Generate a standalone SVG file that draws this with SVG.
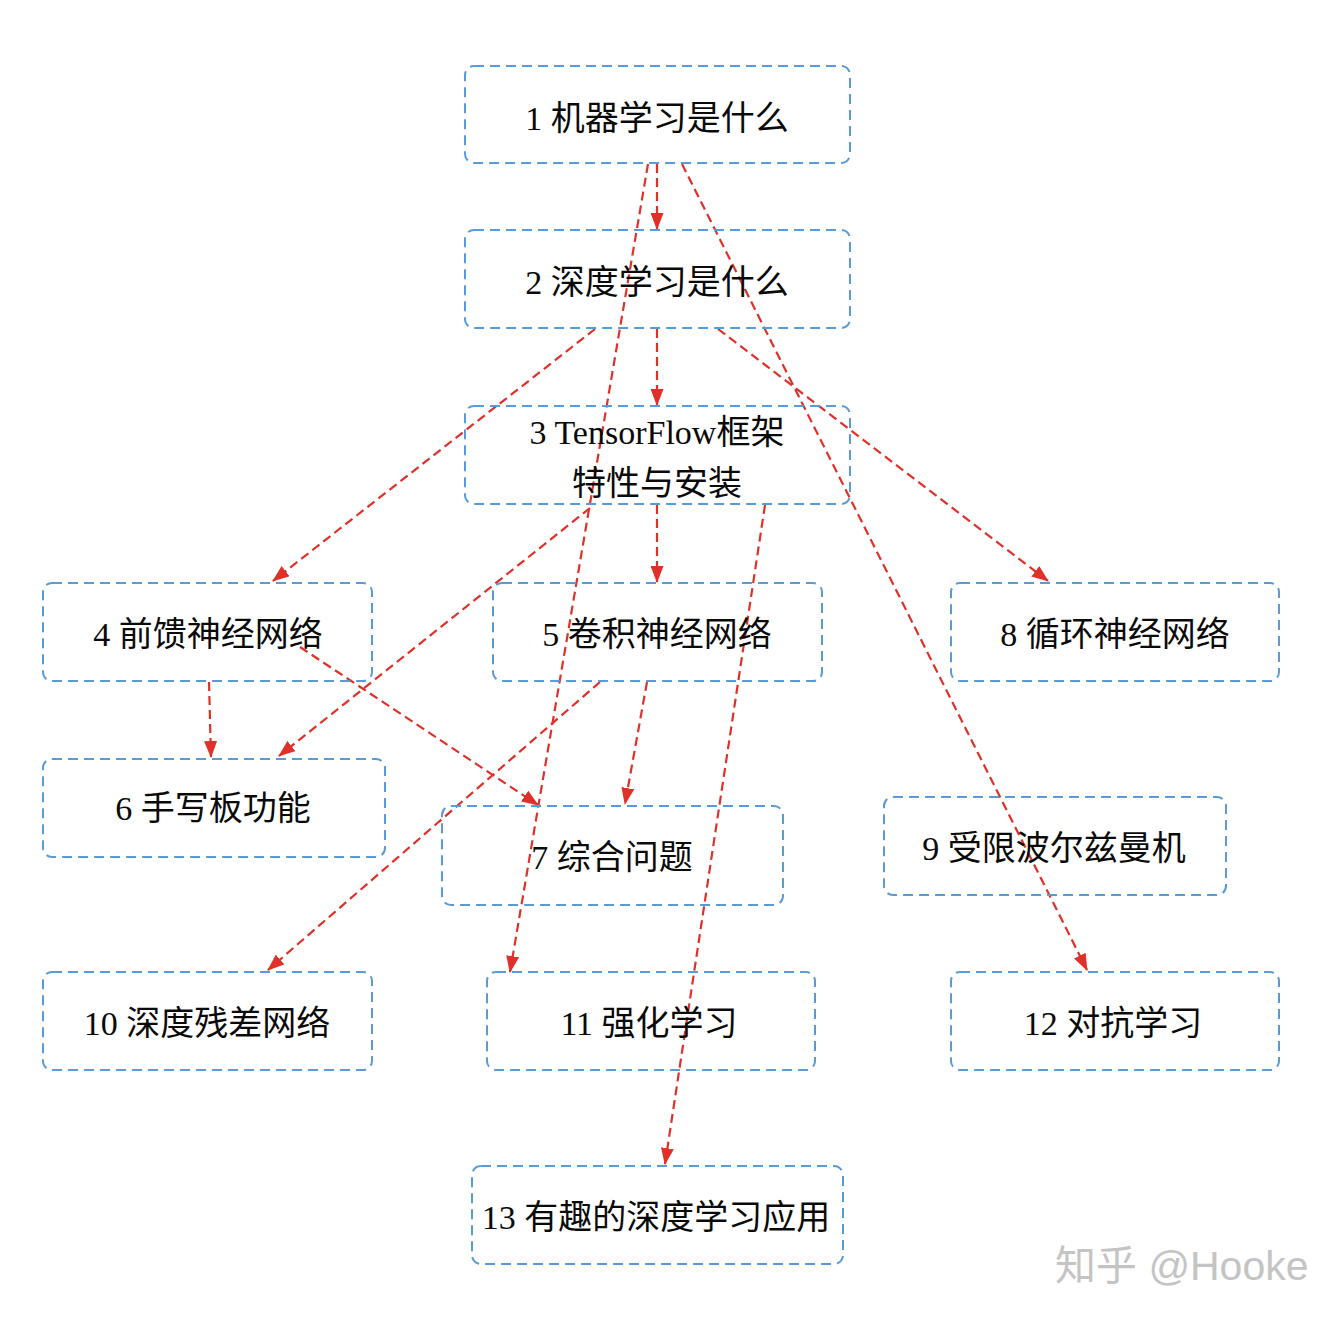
<svg xmlns="http://www.w3.org/2000/svg" width="1344" height="1318" viewBox="0 0 1344 1318">
<style>
.box{fill:none;stroke:#5b9bd5;stroke-width:2;stroke-dasharray:10 6}
.lbl{font-family:"Liberation Serif","Noto Sans CJK SC",serif;font-size:34px;fill:#0a0a0a;text-anchor:middle}
.edge{fill:none;stroke:#e0302a;stroke-width:2.2;stroke-dasharray:9 5;marker-end:url(#ah)}
.wm{font-family:"Liberation Sans","Noto Sans CJK SC",sans-serif;font-size:41px;fill:#c4c4c4}
</style>
<defs>
<marker id="ah" markerUnits="userSpaceOnUse" markerWidth="17" markerHeight="13" viewBox="0 0 17 13" refX="16" refY="6.5" orient="auto">
<path d="M0,0 L17,6.5 L0,13 Z" fill="#e0302a"/>
</marker>
</defs>
<rect width="1344" height="1318" fill="#fff"/>
<g id="connectors">
<line class="edge" x1="657" y1="164" x2="657" y2="229"/>
<line class="edge" x1="648" y1="164" x2="510" y2="972"/>
<line class="edge" x1="682" y1="164" x2="1087" y2="970"/>
<line class="edge" x1="657" y1="329" x2="657" y2="405"/>
<line class="edge" x1="595" y1="329" x2="273" y2="581"/>
<line class="edge" x1="718" y1="329" x2="1048" y2="581"/>
<line class="edge" x1="657" y1="505" x2="657" y2="582"/>
<line class="edge" x1="590" y1="508" x2="279" y2="756"/>
<line class="edge" x1="765" y1="505" x2="665" y2="1164"/>
<line class="edge" x1="209" y1="682" x2="211" y2="757"/>
<line class="edge" x1="300" y1="647" x2="538" y2="805"/>
<line class="edge" x1="647" y1="682" x2="625" y2="804"/>
<line class="edge" x1="600" y1="682" x2="268" y2="970"/>
</g>
<g id="n1"><rect class="box" x="465" y="66" width="385" height="97" rx="9"/><text class="lbl" x="657" y="130">1 机器学习是什么</text></g>
<g id="n2"><rect class="box" x="465" y="230" width="385" height="98" rx="9"/><text class="lbl" x="657" y="294">2 深度学习是什么</text></g>
<g id="n3"><rect class="box" x="465" y="406" width="385" height="98" rx="9"/><text class="lbl" x="657" y="444">3 TensorFlow框架</text><text class="lbl" x="657" y="495">特性与安装</text></g>
<g id="n4"><rect class="box" x="43" y="583" width="329" height="98" rx="9"/><text class="lbl" x="208" y="646">4 前馈神经网络</text></g>
<g id="n5"><rect class="box" x="493" y="583" width="329" height="98" rx="9"/><text class="lbl" x="657" y="646">5 卷积神经网络</text></g>
<g id="n8"><rect class="box" x="951" y="583" width="328" height="98" rx="9"/><text class="lbl" x="1115" y="646">8 循环神经网络</text></g>
<g id="n6"><rect class="box" x="43" y="759" width="342" height="98" rx="9"/><text class="lbl" x="213" y="820">6 手写板功能</text></g>
<g id="n7"><rect class="box" x="442" y="806" width="341" height="99" rx="9"/><text class="lbl" x="612" y="869">7 综合问题</text></g>
<g id="n9"><rect class="box" x="884" y="797" width="342" height="98" rx="9"/><text class="lbl" x="1054" y="860">9 受限波尔兹曼机</text></g>
<g id="n10"><rect class="box" x="43" y="972" width="329" height="98" rx="9"/><text class="lbl" x="207" y="1035">10 深度残差网络</text></g>
<g id="n11"><rect class="box" x="487" y="972" width="328" height="98" rx="9"/><text class="lbl" x="649" y="1035">11 强化学习</text></g>
<g id="n12"><rect class="box" x="951" y="972" width="328" height="98" rx="9"/><text class="lbl" x="1113" y="1035">12 对抗学习</text></g>
<g id="n13"><rect class="box" x="472" y="1166" width="371" height="98" rx="9"/><text class="lbl" x="656" y="1229">13 有趣的深度学习应用</text></g>
<text class="wm" x="1055" y="1280">知乎 @Hooke</text>
</svg>
